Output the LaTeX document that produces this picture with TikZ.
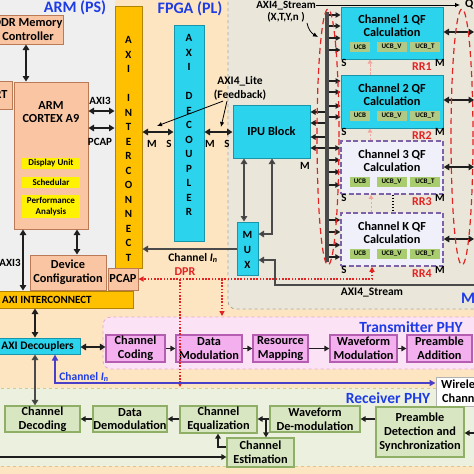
\documentclass[tikz,border=0pt]{standalone}
\usepackage{fontspec}
\setmainfont{Carlito}
\usetikzlibrary{arrows.meta,calc}
\definecolor{bgO}{HTML}{FCE5C0}
\definecolor{bgG}{HTML}{EFEFEF}
\definecolor{bgB}{HTML}{EAE7DA}
\definecolor{sal}{HTML}{F9C5A2}
\definecolor{salB}{HTML}{B97A55}
\definecolor{yelB}{HTML}{FFC000}
\definecolor{yelD}{HTML}{B08400}
\definecolor{cy}{HTML}{2BD3EC}
\definecolor{cyB}{HTML}{1895AA}
\definecolor{pk}{HTML}{F3AFEE}
\definecolor{pkB}{HTML}{B55DB0}
\definecolor{pkR}{HTML}{FCE2F5}
\definecolor{pkD}{HTML}{E8A8D8}
\definecolor{gr}{HTML}{D9E6C2}
\definecolor{grB}{HTML}{8FAE66}
\definecolor{grR}{HTML}{EBF1DE}
\definecolor{lav}{HTML}{EFF0FA}
\definecolor{purB}{HTML}{7E62A8}
\definecolor{ucbA}{HTML}{B0C985}
\definecolor{ucbC}{HTML}{A8CC6E}
\definecolor{bl}{HTML}{1E3CE6}
\definecolor{bline}{HTML}{4A3FC8}
\definecolor{rd}{HTML}{E32222}
\definecolor{dk}{HTML}{1E1E1E}
\definecolor{busc}{HTML}{4A4A4A}
\definecolor{pkarrow}{HTML}{F2A59C}
\definecolor{dashY}{HTML}{D8C890}
\newcommand\myfs[2]{\fontsize{#1}{#2}\selectfont\bfseries}
\newcommand\Bx[6]{\node[#1,minimum width=#4pt,minimum height=#5pt] (#2) at (#3) {#6};}
\tikzset{
 bx/.style={inner sep=0pt, align=center, font=\myfs{12.3}{13.8}, line width=1pt},
 salbox/.style={bx, fill=sal, draw=salB},
 cybox/.style={bx, fill=cy, draw=cyB},
 yelbar/.style={bx, fill=yelB, draw=yelD},
 ylbox/.style={bx, fill=yellow, draw=none, font=\myfs{9}{11.5}},
 pkbox/.style={bx, fill=pk, draw=pkB, line width=1.2pt},
 grbox/.style={bx, fill=gr, draw=grB, line width=1.2pt},
 lavbox/.style={bx, fill=lav, draw=purB, line width=1.5pt, dash pattern=on 5pt off 2.5pt},
 ucbbox/.style={bx, fill=ucbA, draw=none, font=\myfs{7}{8}},
 ucbboxb/.style={bx, fill=ucbC, draw=none, font=\myfs{7}{8}},
 lbl/.style={inner sep=0pt, font=\myfs{11}{12.5}, align=center},
 blu/.style={lbl, text=bl},
 red/.style={lbl, text=rd, font=\myfs{12}{13}},
 vlet/.style={inner sep=0pt, font=\myfs{11}{12}},
 dbl/.style={{Triangle[length=5.5pt,width=6.5pt]}-{Triangle[length=5.5pt,width=6.5pt]}, line width=1.6pt, draw=dk},
 arr/.style={-{Triangle[length=5pt,width=5.5pt]}, line width=1.4pt, draw=dk},
 gline/.style={line width=2pt, draw=busc, arrows={-{Triangle[length=5.5pt,width=6.5pt,fill=dk]}}},
 gdbl/.style={line width=2pt, draw=busc, arrows={{Triangle[length=5.5pt,width=6.5pt,fill=dk]}-{Triangle[length=5.5pt,width=6.5pt,fill=dk]}}},
 ptr/.style={-{Latex[length=5pt,width=4.5pt]}, line width=0.8pt, draw=black},
 dpr/.style={draw=rd, line width=1.2pt, dash pattern=on 1.6pt off 1.6pt},
 pkarr/.style={-{Triangle[length=4pt,width=4.5pt]}, draw=pkarrow, line width=1pt, dash pattern=on 2.5pt off 1.5pt},
 busarr/.style={-{Triangle[length=5pt,width=5.5pt]}, line width=1.2pt, draw=dk},
 ell/.style={draw=rd, line width=1.2pt, dash pattern=on 6pt off 4pt}
}
\begin{document}
\begin{tikzpicture}[x=1pt,y=-1pt]
\useasboundingbox (0,0) rectangle (474,474);
\clip (0,0) rectangle (474,474);
% backgrounds
\fill[bgO] (-5,-5) rectangle (480,480);
\fill[bgG] (-5,-5) rectangle (115,291);
\fill[bgB,rounded corners=8pt] (228,-10) -- (228,309) -- (490,309) -- (490,-10) -- cycle;
\draw[gray!70,dashed,line width=0.8pt,rounded corners=8pt] (228,-10) -- (228,309) -- (490,309);
\filldraw[fill=pkR, draw=pkD, dashed, line width=0.8pt, rounded corners=8pt] (103,317) rectangle (490,369);
\fill[grR] (-5,388) rectangle (480,466);
\draw[dashY, dashed, line width=0.8pt] (-5,388) -- (480,388);
\draw[dashY, dashed, line width=0.8pt] (-5,466) -- (480,466);

% titles
\node[blu, font=\myfs{16}{18}] (tarm) at (75,8) {ARM (PS)};
\node[blu, font=\myfs{16}{18}] (tfpga) at (190,9) {FPGA (PL)};
\node[blu, font=\myfs{15.5}{17}] (ttx) at (411,327) {Transmitter PHY};
\node[blu, font=\myfs{15.5}{17}] (trx) at (388,398) {Receiver PHY};
\node[blu, font=\myfs{16}{18}, anchor=west] (tm) at (461,298) {M};

% ARM side
\Bx{salbox}{ddr}{28,29.5}{70}{29}{DDR Memory\\Controller}
\Bx{salbox}{uart}{-6.5,95}{37}{28}{UART}
\Bx{salbox}{arm}{51,155.5}{74}{147}{}
\node[lbl, font=\myfs{12.3}{13}] (armt) at (51,112.5) {ARM\\CORTEX A9};
\Bx{ylbox}{disp}{51,163.5}{58}{11}{Display Unit}
\Bx{ylbox}{sched}{51,182}{58}{11}{Schedular}
\Bx{ylbox}{perf}{51,206.5}{58}{23}{Performance\\Analysis}
\Bx{yelbar}{axiic}{128.5,137}{27}{262}{}
\foreach \l [count=\i from 0] in {A,X,I,,I,N,T,E,R,C,O,N,N,E,C,T}
  \node[vlet] (icl\i) at (128.5,{40+14.5*\i}) {\l};
\Bx{salbox}{pcap}{123,279}{30}{22}{PCAP}
\Bx{salbox}{devcfg}{68,272.5}{76}{35}{Device\\Configuration}
\Bx{yelbar}{axih}{64,299.5}{138}{17}{}
\node[lbl, anchor=west] (axiht) at (2,300) {AXI INTERCONNECT};
\Bx{cybox}{axids}{37.5,346}{85}{16}{\myfs{11.5}{12}AXI Decouplers}

% FPGA side
\Bx{cybox}{axidec}{189,133}{30}{216}{}
\foreach \l [count=\i from 0] in {A,X,I,,D,E,C,O,U,P,L,E,R}
  \node[vlet] (dcl\i) at (189,{38+14.5*\i}) {\l};
\Bx{cybox}{ipu}{271.5,131.5}{77}{53}{IPU Block}
\Bx{cybox}{mux}{247.5,248.5}{21}{53}{}
\foreach \l [count=\i from 0] in {M,U,X}
  \node[vlet] (mxl\i) at (247.5,{235+15*\i}) {\l};

% channels
\Bx{cybox}{ch1}{392,33}{102}{52}{}
\Bx{cybox}{ch2}{392,101.5}{102}{53}{}
\Bx{lavbox}{ch3}{392,167.5}{102}{53}{}
\Bx{lavbox}{chk}{392,239.5}{102}{53}{}
\foreach \n/\cy/\t/\r/\st in {ch1/33/1/1/ucbbox, ch2/101.5/2/2/ucbbox, ch3/167.5/3/3/ucbboxb, chk/239.5/K/4/ucbboxb}{
  \node[lbl, font=\myfs{12.3}{13}] (\n t) at (392,\cy-7) {Channel \t\ QF\\Calculation};
  \node[\st, minimum width=20pt, minimum height=10pt] (\n u1) at (360,\cy+14) {UCB};
  \node[\st, minimum width=30pt, minimum height=10pt] (\n u2) at (391.5,\cy+14) {UCB\_V};
  \node[\st, minimum width=30pt, minimum height=10pt] (\n u3) at (425,\cy+14) {UCB\_T};
  \node[lbl] (\n s) at (344,\cy+30) {S};
  \node[lbl] (\n m) at (440,\cy+30) {M};
  \node[red] (\n r) at (422,\cy+34) {RR\r};
}
\draw[pkarr] (ch2.north -| 370,0) -- (ch1.south -| 370,0);
\draw[pkarr] (ch3.north -| 370,0) -- (ch2.south -| 370,0);
\draw[pkarr] (chk.north -| 371,0) -- (ch3.south -| 371,0);
\draw[dotted, line width=1.1pt] (ch3.south -| 393,0) -- (chk.north -| 393,0);

% bus
\coordinate (busT) at (327,12);
\coordinate (busB) at (327,262);
\draw[busc, line width=4pt] (busT) -- (busB);
\foreach \y in {15,26,38,50} \draw[busarr] (329,\y) -- (ch1.west |- 0,\y);
\foreach \y in {81,92,106,117} \draw[busarr] (329,\y) -- (ch2.west |- 0,\y);
\foreach \y in {148,160,172,185} \draw[busarr] (329,\y) -- (ch3.west |- 0,\y);
\foreach \y in {220,232,245,257} \draw[busarr] (329,\y) -- (chk.west |- 0,\y);
\foreach \y in {112,123,137,148} \draw[busarr] (325,\y) -- (ipu.east |- 0,\y);
\node[lbl] (ipum) at (305,166) {M};
% right side double arrows
\foreach \n/\y in {ch1/32,ch2/100,ch3/167,chk/239} \draw[dbl] (\n.east |- 0,\y) -- (474,\y);

% red dashed ellipses
\draw[ell] (328,137) ellipse [x radius=11pt, y radius=128pt];
\draw[ell] (462,137) ellipse [x radius=11pt, y radius=128pt];

% AXI4 stream labels
\node[lbl] (stream) at (286,11.5) {AXI4\_Stream\\(X,T,Y,n )};
\coordinate (qtip) at (460,5);
\draw[ptr] (stream.east |- 0,5) -- (qtip);
\node[lbl, font=\myfs{12}{13}, anchor=west] (qlab) at (465,4) {Q};
\coordinate (elltip) at (318,37);
\draw[ptr] (307,23) to[out=-80,in=150] (elltip);
\node[lbl, font=\myfs{11.5}{12.5}] (streamb) at (372,293) {AXI4\_Stream};

% ARM arrows
\draw[dbl] (ddr.south -| 26,0) -- (arm.north -| 26,0);
\draw[dbl] (arm.east |- 0,111) -- (axiic.west |- 0,111);
\draw[dbl] (arm.east |- 0,128) -- (axiic.west |- 0,128);
\node[lbl] (laxi3) at (100,101) {AXI3};
\node[lbl] (lpcap) at (100,142) {PCAP};
\draw[dbl] (arm.south -| 77,0) -- (devcfg.north -| 77,0);
\draw[dbl] (arm.south -| 23,0) -- (axih.north -| 23,0);
\node[lbl] (laxi3b) at (10,263) {AXI3};

% AXI decoupler links
\draw[dbl] (axiic.east |- 0,132) -- (axidec.west |- 0,132);
\draw[dbl] (axidec.east |- 0,132) -- (ipu.west |- 0,132);
\node[lbl] (m1) at (152,144) {M};
\node[lbl] (s1) at (169,144) {S};
\node[lbl] (m2) at (210,144) {M};
\node[lbl] (s2) at (227,144) {S};
\node[lbl, font=\myfs{11.5}{14}] (lite) at (240,88) {AXI4\_Lite\\(Feedback)};
\coordinate (tip1) at (157,126);
\coordinate (tip2) at (221,127);
\draw[ptr] ($(lite.south)+(-17,1)$) -- (tip1);
\draw[ptr] ($(lite.south)+(-13,1)$) -- (tip2);

% IPU - MUX
\draw[gdbl] (ipu.south -| 244,0) -- (mux.north -| 244,0);
\draw[gdbl] (ipu.south -| 272,0) -- (272,234) -- (mux.east |- 0,234);
\draw[gline] (476,285) -- (275,285) -- (275,260) -- (mux.east |- 0,260);
\draw[gline] (mux.west |- 0,249) -- (axiic.east |- 0,249);
\node[lbl, font=\myfs{11.5}{12.5}] (chin) at (193,258) {Channel {\itshape I}\textsubscript{\itshape n}};

% DPR
\draw[dpr, {Triangle[length=5pt,width=5pt]}-{Triangle[length=5pt,width=5pt]}] (chk.south -| 372,0) -- (372,279) -- (pcap.east |- 0,279);
\node[red] (dprl) at (185,272) {DPR};

% Tx
\Bx{pkbox}{cc}{135.5,348.5}{59}{27}{Channel\\Coding}
\Bx{pkbox}{dm}{209,348.5}{66}{27}{Data\\Modulation}
\Bx{pkbox}{rm}{280.5,348.5}{55}{27}{Resource\\Mapping}
\Bx{pkbox}{wm}{363.5,348.5}{67}{27}{Waveform\\Modulation}
\Bx{pkbox}{pa}{439.5,348.5}{65}{27}{Preamble\\Addition}
\draw[arr] (cc.east) -- (dm.west);
\draw[arr] (dm.east) -- (rm.west);
\draw[arr] (rm.east) -- (wm.west);
\draw[arr] (wm.east) -- (pa.west);
\coordinate (dprA) at (180,387);
\coordinate (dprB) at (222,316);
\draw[dpr, -{Triangle[length=5pt,width=5pt]}] (180,279) -- (dprA);
\draw[dpr, -{Triangle[length=5pt,width=5pt]}] (222,279) -- (dprB);

\draw[dbl] (axih.south -| 35,0) -- (axids.north -| 35,0);
\draw[dbl] (axids.east |- 0,347) -- (cc.west |- 0,347);

% wireless + blue line
\Bx{bx,fill=white,draw=gray!60}{wl}{463,391.5}{54}{29}{Wireless\\Channel}
\draw[line width=2pt, draw=bline, {Triangle[length=6pt,width=6pt,fill=bl]}-{Triangle[length=6pt,width=6pt,fill=bl]}] (axids.south -| 55,0) -- (55,383) -- (wl.west |- 0,383);
\node[blu, font=\myfs{11.5}{12.5}] (chinb) at (84,377) {Channel {\itshape I}\textsubscript{\itshape n}};

% Rx
\Bx{grbox}{cd}{42.5,419}{75}{26}{Channel\\Decoding}
\Bx{grbox}{dd}{130,419}{74}{26}{Data\\Demodulation}
\Bx{grbox}{ce}{218.5,419.5}{77}{27}{Channel\\Equalization}
\Bx{grbox}{wd}{315,419}{90}{26}{Waveform\\De-modulation}
\Bx{grbox}{pd}{420,432}{88}{50}{Preamble\\Detection and\\Synchronization}
\Bx{grbox}{est}{260.5,452.5}{67}{29}{Channel\\Estimation}
\draw[gdbl] (axids.south -| 35,0) -- (cd.north -| 35,0);
\draw[arr] (dd.west) -- (cd.east);
\draw[arr] (ce.west |- dd.east) -- (dd.east);
\draw[arr] (wd.west) -- (ce.east |- wd.west);
\draw[arr] (pd.west |- 0,419) -- (wd.east |- 0,419);
\draw[arr] (476,433) -- (pd.east |- 0,433);
\draw[arr] (266,419) -- (est.north -| 266,0);
\draw[arr] (est.west |- 0,447) -- (218,447) -- (ce.south -| 218,0);
\draw[arr] (-5,457) -- (est.west |- 0,457);
\end{tikzpicture}
\end{document}
